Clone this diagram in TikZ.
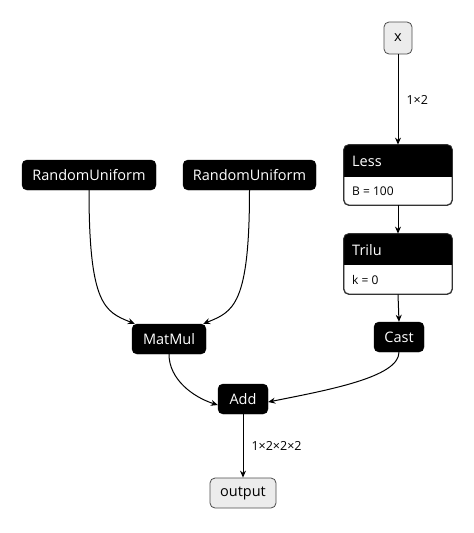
\documentclass[tikz,border=0pt]{standalone}
\usepackage{fontspec}
\setmainfont{Open Sans}
\usetikzlibrary{arrows.meta}
\begin{document}
\begin{tikzpicture}[x=1pt,y=-1pt,
  op/.style={fill=black,draw=black,text=white,rounded corners=5pt,inner sep=0pt,font=\fontsize{14.5}{16}\selectfont,minimum height=30pt},
  io/.style={fill=gray!15,draw=black!70,line width=0.8pt,rounded corners=5pt,inner sep=0pt,font=\fontsize{14.5}{16}\selectfont,minimum height=30pt},
  attrbox/.style={fill=white,draw=black!80,line width=0.8pt,rounded corners=5pt,inner sep=0pt,minimum width=108pt,minimum height=60pt},
  hdr/.style={text=white,anchor=west,inner sep=0pt,font=\fontsize{14.5}{16}\selectfont},
  attr/.style={text=black,anchor=west,inner sep=0pt,font=\fontsize{12}{14}\selectfont},
  elabel/.style={inner sep=0pt,font=\fontsize{12.5}{14}\selectfont,anchor=west},
  conn/.style={line width=1pt,-{Stealth[length=7pt,width=6pt]}}]
\useasboundingbox (0,0) rectangle (474,533);
% input x
\node[io,minimum width=28pt,minimum height=32pt] (x) at (398,38) {x};
% Less
\node[attrbox] (less) at (398,175) {};
\begin{scope}
\clip[rounded corners=5pt] (less.north west) rectangle (less.south east);
\fill[black] (less.north west) rectangle (452,177);
\end{scope}
\draw[black!80,line width=0.8pt,rounded corners=5pt] (less.north west) rectangle (less.south east);
\node[hdr] (lesst) at (352,161) {Less};
\node[attr] (lessa) at (352,191) {B = 100};
% Trilu
\node[attrbox] (trilu) at (398,264) {};
\begin{scope}
\clip[rounded corners=5pt] (trilu.north west) rectangle (trilu.south east);
\fill[black] (trilu.north west) rectangle (452,265);
\end{scope}
\draw[black!80,line width=0.8pt,rounded corners=5pt] (trilu.north west) rectangle (trilu.south east);
\node[hdr] (trilut) at (352,250) {Trilu};
\node[attr] (trilua) at (352,280) {k = 0};
% Cast
\node[op,minimum width=50pt] (cast) at (399,337) {Cast};
% RandomUniform
\node[op,minimum width=134pt] (ru1) at (89,175) {RandomUniform};
\node[op,minimum width=133pt] (ru2) at (249.5,175) {RandomUniform};
% MatMul
\node[op,minimum width=74pt] (mm) at (169,339) {MatMul};
% Add
\node[op,minimum width=50pt] (add) at (243,399) {Add};
% output
\node[io,minimum width=66pt] (out) at (243,493) {output};
% edges
\draw[conn] (x.south) -- node[elabel,right=8pt] {1×2} (less.north);
\draw[conn] (less.south) -- (trilu.north);
\draw[conn] (trilu.south) -- (cast.north);
\draw[conn] (ru1.south) .. controls +(0,115) and +(-30,-12) .. ([xshift=3pt]mm.north west);
\draw[conn] (ru2.south) .. controls +(0,115) and +(30,-12) .. ([xshift=-3pt]mm.north east);
\draw[conn] (mm.south) .. controls +(0,25) and +(-25,-8) .. ([yshift=-6pt]add.west);
\draw[conn] (cast.south) .. controls +(0,25) and +(60,-12) .. ([yshift=-3pt]add.east);
\draw[conn] (add.south) -- node[elabel,right=8pt] {1×2×2×2} (out.north);
\end{tikzpicture}
\end{document}
